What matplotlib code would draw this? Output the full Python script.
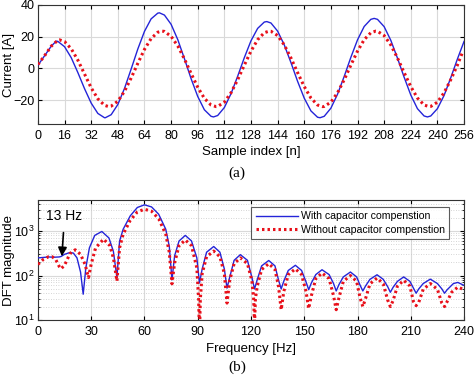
import matplotlib
matplotlib.use("Agg")
import matplotlib.pyplot as plt
from matplotlib.ticker import LogLocator, NullFormatter

plt.rcParams["font.family"] = ["Liberation Sans", "DejaVu Sans"]

# (a) current waveform, read every 4 samples plus the crests
n_with = [0, 4, 8, 11, 12, 16, 20, 24, 28, 32, 36, 40, 40.5,
          44, 48, 52, 56, 60, 64, 68, 72, 73,
          76, 80, 84, 88, 92, 96, 100, 104, 105.5,
          108, 112, 116, 120, 124, 128, 132, 136, 137.5,
          140, 144, 148, 152, 156, 160, 164, 168, 169.5,
          172, 176, 180, 184, 188, 192, 196, 200, 202,
          204, 208, 212, 216, 220, 224, 228, 232, 234,
          236, 240, 244, 248, 252, 256]
i_with = [2, 8, 14, 17.2, 17, 13.7, 6.8, -2.6, -12.7, -21.8, -28.3, -31.0, -31.0,
          -29.1, -22.7, -12.6, -0.4, 12.2, 23.3, 31.2, 34.8, 35.0,
          33.6, 27.8, 18.2, 6.2, -6.4, -17.6, -26.0, -30.1, -30.5,
          -29.6, -24.6, -15.9, -4.9, 6.8, 17.4, 25.2, 29.2, 29.5,
          28.6, 23.5, 14.8, 3.7, -8.1, -18.7, -26.7, -30.7, -31.0,
          -30.1, -25.0, -16.2, -5.0, 7.0, 18.0, 26.4, 30.9, 31.5,
          30.9, 26.3, 17.7, 6.5, -5.5, -16.7, -25.3, -29.9, -30.5,
          -29.9, -25.3, -17.0, -5.9, 5.9, 17.0]
n_without = [0, 4, 8, 12, 13, 16, 20, 24, 28, 32, 36, 40, 42.5,
             44, 48, 52, 56, 60, 64, 68, 72, 74.5,
             76, 80, 84, 88, 92, 96, 100, 104, 107,
             108, 112, 116, 120, 124, 128, 132, 136, 139,
             140, 144, 148, 152, 156, 160, 164, 168, 171,
             172, 176, 180, 184, 188, 192, 196, 200, 203,
             204, 208, 212, 216, 220, 224, 228, 232, 235,
             236, 240, 244, 248, 252, 255]
i_without = [2.5, 8, 14, 17.8, 18.0, 16.9, 12.4, 5.2, -3.5, -12.2, -19.1, -23.2, -24.0,
             -23.7, -20.6, -14.4, -6.0, 3.2, 12.0, 18.8, 22.8, 23.5,
             23.3, 20.2, 14.2, 6.0, -3.1, -11.8, -18.8, -23.0, -24.0,
             -23.9, -21.2, -15.3, -7.1, 2.1, 10.9, 18.1, 22.5, 23.5,
             23.4, 20.7, 14.8, 6.6, -2.6, -11.4, -18.6, -23.0, -24.0,
             -23.9, -21.2, -15.3, -7.1, 2.1, 10.9, 18.1, 22.5, 23.5,
             23.4, 20.7, 14.8, 6.6, -2.6, -11.4, -18.6, -23.0, -24.0,
             -23.9, -21.2, -15.3, -7.1, 2.1, 10.0]

# (b) DFT magnitude
f_with = [0, 3, 6, 9, 12, 13, 15, 18, 20, 22, 24, 25.5, 27, 29, 32, 36, 40, 42.5,
          44.5, 46, 48, 52, 56, 60, 64, 68, 72, 74, 75.5,
          77, 79.5, 83, 86.5, 89.5, 91,
          92.5, 95, 99, 102.5, 105, 106.5,
          108, 110.5, 114, 118, 120.5, 122,
          123.5, 126, 130, 133.5, 135.5, 137,
          138.5, 141, 145, 148.5, 151, 152.5,
          154, 156.5, 160, 164, 166.5, 168,
          169.5, 172, 176, 179.5, 181.5, 183,
          184.5, 187, 191, 194.5, 197, 198.5,
          200, 202.5, 206, 209.5, 211.5, 213,
          214.5, 217, 221, 225, 227.5, 229,
          230.5, 234, 236.5, 240]
m_with = [250, 255, 262, 258, 262, 268, 300, 330, 320, 250, 120, 38, 150, 420, 800, 980, 700, 350,
          90, 600, 1100, 2200, 3400, 3900, 3500, 2400, 1100, 450, 80,
          280, 600, 800, 600, 250, 68,
          140, 335, 450, 335, 140, 52,
          91, 220, 295, 220, 91, 50,
          80, 165, 218, 165, 80, 50,
          75, 130, 170, 130, 72, 48,
          68, 105, 135, 105, 66, 45,
          62, 93, 120, 93, 60, 45,
          58, 82, 104, 82, 56, 42,
          54, 74, 93, 74, 52, 40,
          50, 66, 83, 66, 50, 40,
          48, 66, 70, 60]

f_without = [0, 3, 6, 8, 10, 12, 13, 15, 18, 21, 24, 26.5, 28.5, 30, 32.5, 37, 40.5, 42.5,
             44.5, 46, 48, 52, 56, 60, 64, 68, 72, 74, 75.5,
             77, 79.5, 83, 86.5, 89.5, 90.5, 91, 91.5,
             92.5, 95, 99, 102.5, 105, 106.5,
             108, 110.5, 114, 118, 120.5, 121.5, 122, 122.5,
             123.5, 126, 130, 133.5, 135.5, 137,
             138.5, 141, 145, 148.5, 151, 152.5,
             154, 156.5, 160, 164, 166.5, 168,
             169.5, 172, 176, 179.5, 181.5, 183,
             184.5, 187, 191, 194.5, 197, 198.5,
             200, 202.5, 206, 209.5, 211.5, 213,
             214.5, 217, 221, 225, 227.5, 229,
             230.5, 233, 236.5, 240]
m_without = [178, 230, 265, 265, 230, 160, 142, 170, 310, 380, 300, 180, 90, 180, 420, 660, 470, 250,
             75, 420, 850, 1750, 2700, 3100, 2800, 1900, 850, 330, 65,
             195, 470, 630, 470, 150, 30, 5, 30,
             110, 265, 355, 265, 110, 24,
             77, 185, 250, 185, 77, 30, 8, 30,
             57, 137, 185, 137, 57, 17,
             44, 105, 141, 105, 44, 18,
             35, 85, 114, 85, 35, 17,
             31, 74, 100, 74, 31, 20,
             30, 65, 88, 65, 28, 20,
             27, 58, 78, 58, 26, 21,
             25, 49, 66, 49, 24, 20,
             26, 42, 55, 48]

BLUE = "#2424d8"
RED = "#e8101a"
GRID = "#d9d9d9"
SERIF = ["Liberation Serif", "DejaVu Serif"]

fig = plt.figure(figsize=(4.74, 3.76), dpi=100)
ax1 = fig.add_axes([0.080, 0.670, 0.899, 0.317])
ax2 = fig.add_axes([0.080, 0.149, 0.899, 0.319])

for ax in (ax1, ax2):
    ax.tick_params(direction="in", top=True, right=True, labelsize=9, length=3,
                   pad=2.5)
    ax.tick_params(axis="x", pad=4)
    ax.set_axisbelow(True)
    for s in ax.spines.values():
        s.set_linewidth(0.8)
        s.set_color("#333333")

ax1.plot(n_with, i_with, color=BLUE, lw=1.0, zorder=3)
ax1.plot(n_without, i_without, color=RED, lw=2.2, ls=(0, (0.8, 1.0)), zorder=4)
ax1.set_xlim(0, 256)
ax1.set_ylim(-35, 40)
ax1.set_xticks(range(0, 257, 16))
ax1.set_yticks([-20, 0, 20, 40])
ax1.grid(True, color=GRID, lw=0.8)
ax1.set_ylabel("Current [A]", fontsize=9.5)
ax1.yaxis.set_label_coords(-0.054, 0.5)
ax1.set_xlabel("Sample index [n]", fontsize=9.5, labelpad=3)
fig.text(0.5, 0.54, "(a)", ha="center", va="center", fontsize=11, family=SERIF)

ax2.semilogy(f_with, m_with, color=BLUE, lw=1.0, zorder=3,
             label="With capacitor compenstion")
ax2.semilogy(f_without, m_without, color=RED, lw=2.2, ls=(0, (0.8, 1.0)),
             zorder=4, label="Without capacitor compenstion")
ax2.set_xlim(0, 240)
ax2.set_ylim(10, 5000)
ax2.set_xticks(range(0, 241, 30))
ax2.yaxis.set_major_locator(LogLocator(base=10, numticks=10))
ax2.yaxis.set_minor_locator(LogLocator(base=10, subs=range(2, 10), numticks=10))
ax2.yaxis.set_minor_formatter(NullFormatter())
ax2.tick_params(which="minor", direction="in", right=True, length=1.5)
ax2.grid(True, which="major", color=GRID, lw=0.8)
ax2.grid(True, which="minor", axis="y", color="#c8c8c8", lw=0.6, ls=(0, (1, 2)))
ax2.set_ylabel("DFT magnitude", fontsize=9.5)
ax2.yaxis.set_label_coords(-0.054, 0.5)
ax2.set_xlabel("Frequency [Hz]", fontsize=9.5, labelpad=4)
leg = ax2.legend(loc="upper right", fontsize=7.6, frameon=True, fancybox=False,
                 handlelength=4.0, handletextpad=0.3, borderpad=0.4,
                 labelspacing=0.35, borderaxespad=0, bbox_to_anchor=(0.965, 0.94))
leg.get_frame().set_edgecolor("#333333")
leg.get_frame().set_linewidth(0.8)
ax2.annotate("13 Hz", xy=(13.5, 270), xytext=(15, 2200), ha="center", va="center",
             fontsize=10, arrowprops=dict(arrowstyle="-|>", color="black", lw=1.2,
                                          mutation_scale=13, shrinkA=5, shrinkB=0))
fig.text(0.5, 0.022, "(b)", ha="center", va="center", fontsize=11, family=SERIF)

fig.savefig("out.png", dpi=100, facecolor="white")
